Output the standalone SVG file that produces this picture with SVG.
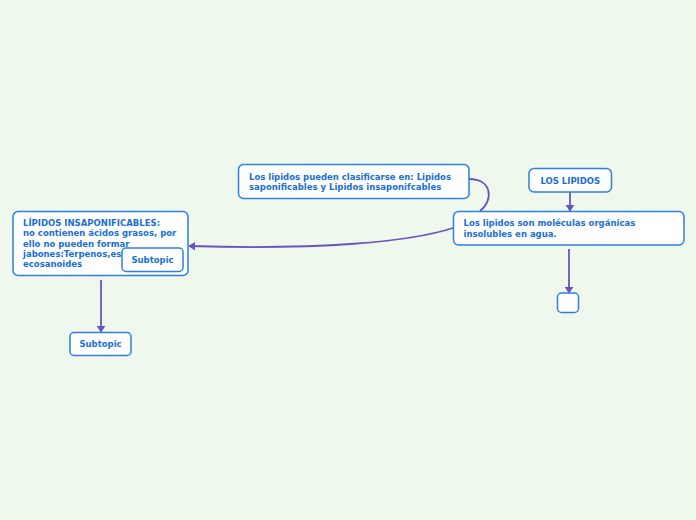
<svg xmlns="http://www.w3.org/2000/svg" width="696" height="520" viewBox="0 0 696 520">
<style>
.box{fill:#ffffff;stroke:#2d80e0;stroke-width:1.5}
.t{font-family:"DejaVu Sans",Verdana,sans-serif;font-weight:bold;font-size:8.5px;fill:#1a6fd4}
.c{fill:none;stroke:#6b52c2;stroke-width:1.8}
</style>
<defs>
<marker id="ah" viewBox="0 0 10 10" refX="9" refY="5" markerWidth="7" markerHeight="9" orient="auto" markerUnits="userSpaceOnUse" preserveAspectRatio="none">
<path d="M0,0 L10,5 L0,10 z" fill="#6b52c2"/>
</marker>
</defs>
<rect width="696" height="520" fill="#eff8ed"/>
<g id="connectors">
<path class="c" d="M570,192 L570,211" marker-end="url(#ah)"/>
<path class="c" d="M569,249 L569,293" marker-end="url(#ah)"/>
<path class="c" d="M469,179 C492,179 494,200 480,211"/>
<path class="c" d="M453,228 C410,242 320,250 189,246" marker-end="url(#ah)"/>
<path class="c" d="M101,280 L101,332" marker-end="url(#ah)"/>
</g>
<g id="n-los-lipidos">
<rect class="box" x="529" y="168.5" width="82.5" height="23.5" rx="5"/>
<text class="t" x="570.3" y="184" text-anchor="middle">LOS LIPIDOS</text>
</g>
<g id="n-main">
<rect class="box" x="453.5" y="211.5" width="230.5" height="33.5" rx="5"/>
<text class="t" x="463.5" y="225.5">Los lipidos son moléculas orgánicas</text>
<text class="t" x="463.5" y="236.5">insolubles en agua.</text>
</g>
<g id="n-empty">
<rect class="box" x="557.5" y="293" width="21" height="19.5" rx="4"/>
</g>
<g id="n-clasif">
<rect class="box" x="238.5" y="164.5" width="230.5" height="34" rx="5"/>
<text class="t" x="249" y="179.5">Los lipidos pueden clasificarse en: Lipidos</text>
<text class="t" x="249" y="190">saponificables y Lipidos insaponifcables</text>
</g>
<g id="n-insap">
<rect class="box" x="13" y="211.5" width="175" height="64" rx="5"/>
<text class="t" x="23" y="225.5">LÍPIDOS INSAPONIFICABLES:</text>
<text class="t" x="23" y="236">no contienen ácidos grasos, por</text>
<text class="t" x="23" y="246.5">ello no pueden formar</text>
<text class="t" x="23" y="256.5">jabones:Terpenos,es</text>
<text class="t" x="23" y="266.5">ecosanoides</text>
</g>
<g id="n-subtopic-inner">
<rect class="box" x="122" y="248" width="61" height="23.5" rx="4"/>
<text class="t" x="152.5" y="263" text-anchor="middle">Subtopic</text>
</g>
<g id="n-subtopic-bottom">
<rect class="box" x="70" y="332.5" width="61" height="23" rx="4"/>
<text class="t" x="100.5" y="347" text-anchor="middle">Subtopic</text>
</g>
</svg>
